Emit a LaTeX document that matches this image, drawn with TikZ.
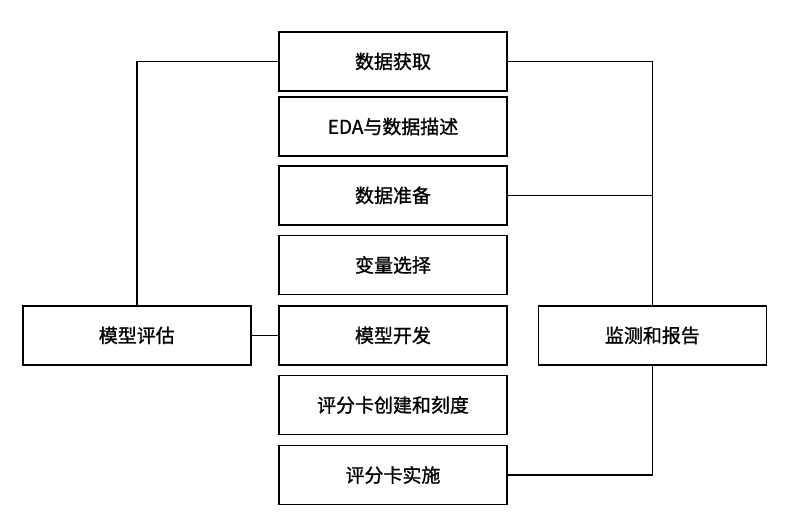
\documentclass[tikz,border=0pt]{standalone}
\usepackage{fontspec}
\newfontfamily\cjk[AutoFakeBold=1.2]{Noto Sans CJK SC}
\tikzset{
  stage/.style={draw,line width=1.2pt,minimum width=5.7cm,minimum height=1.47cm,
    inner sep=0pt,font=\cjk\bfseries\fontsize{13.5}{16}\selectfont},
  link/.style={line width=1.2pt}
}
\begin{document}
\begin{tikzpicture}[thick]
        \useasboundingbox (0,0) rectangle (19.825,13.225);

        % middle column
        \node[stage] (acq)  at (9.825,11.69) {数据获取};
        \node[stage] (eda)  at (9.825,10.06) {EDA与数据描述};
        \node[stage] (prep) at (9.825,8.34) {数据准备};
        \node[stage] (var)  at (9.825,6.6) {变量选择};
        \node[stage] (dev)  at (9.825,4.84) {模型开发};
        \node[stage] (card) at (9.825,3.1) {评分卡创建和刻度};
        \node[stage] (impl) at (9.825,1.35) {评分卡实施};

        % side boxes
        \node[stage] (eval) at (3.42,4.84) {模型评估};
        \node[stage] (mon)  at (16.31,4.84) {监测和报告};

        \draw[link] (acq.west) -| (eval.north);
        \draw[link] (eval.east) -- (dev.west);
        \draw[link] (acq.east) -| (mon.north);
        \draw[link] (prep.east) -- (prep.east -| mon.north);
        \draw[link] (mon.south) |- (impl.east);
\end{tikzpicture}
\end{document}
